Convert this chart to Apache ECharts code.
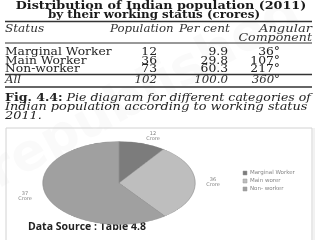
<!DOCTYPE html>
<html><head><meta charset="utf-8">
<script src="https://cdn.jsdelivr.net/npm/echarts@6/dist/echarts.min.js"></script>
<style>
html,body{margin:0;padding:0;background:#fff;overflow:hidden;width:320px;height:240px}
#main{position:absolute;left:0;top:0;width:320px;height:240px}
#pie{position:absolute;left:42px;top:106px;width:154px;height:154px;transform:scaleY(0.545);transform-origin:50% 50%}
</style></head><body>
<div id="main"></div><div id="pie"></div>
<script>
const titleLines = ['Distribution of Indian population (2011)', 'by their working status (crores)'];
const headers = ['Status', 'Population', 'Per cent', 'Angular', 'Component'];
const categories = ['Marginal Worker', 'Main Worker', 'Non-worker'];
const population = [12, 36, 73];
const percent = [9.9, 29.8, 60.3];
const angles = [36, 107, 217];
const totalRow = ['All', '102', '100.0', '360°'];
const captionLines = ['Pie diagram for different categories of', 'Indian population according to working status', '2011.'];
const legendNames = ['Marginal Worker', 'Main worer', 'Non- worker'];
const pieLabels = ['12', '36', '37'];
const sourceText = 'Data Source : Table 4.8';
const sliceColors = ['#7c7c7c', '#bebebe', '#a0a0a0'];

const SERIF = '"DejaVu Serif"';
function T(text, x, y, font, align, fill, sx) {
  return {type: 'text', x: x, y: y, scaleX: sx || 1, silent: true,
    style: {text: text, font: font, fill: fill || '#222', align: align || 'left', verticalAlign: 'middle'}};
}
function L(x1, y1, x2, y2, w, c) {
  return {type: 'line', silent: true, shape: {x1: x1, y1: y1, x2: x2, y2: y2}, style: {stroke: c || '#333', lineWidth: w}};
}
const g = [];
// faint watermark
g.push({type: 'text', x: 4, y: 200, rotation: 0.5, silent: true,
  style: {text: 'republished', font: 'bold 52px "DejaVu Sans"', fill: 'rgba(0,0,0,0.02)', verticalAlign: 'bottom'}});
g.push(T(titleLines[0], 161, 6.5, 'bold 11px ' + SERIF, 'center', '#1a1a1a', 1.16));
g.push(T(titleLines[1], 154, 15.5, 'bold 11px ' + SERIF, 'center', '#1a1a1a', 1.08));
g.push(L(5, 21.5, 312, 21.5, 1.5));
const HF = 'italic 10.5px ' + SERIF;
g.push(T(headers[0], 5, 29.5, HF, 'left', '#333', 1.15));
g.push(T(headers[1], 110, 29.5, HF, 'left', '#333', 1.12));
g.push(T(headers[2], 179, 29.5, HF, 'left', '#333', 1.15));
g.push(T(headers[3], 312, 29.5, HF, 'right', '#333', 1.25));
g.push(T(headers[4], 312, 38.5, HF, 'right', '#333', 1.2));
g.push(L(5, 43, 312, 43, 1));
const RF = '11px ' + SERIF;
categories.forEach(function (c, i) {
  const y = 52 + i * 8.7;
  g.push(T(c, 5, y, RF, 'left', '#222', 1.12));
  g.push(T(String(population[i]), 157, y, RF, 'right', '#222', 1.12));
  g.push(T(percent[i].toFixed(1), 228, y, RF, 'right', '#222', 1.12));
  g.push(T(angles[i] + '°', 280, y, RF, 'right', '#222', 1.12));
});
g.push(L(5, 74.5, 312, 74.5, 1.5));
g.push(T(totalRow[0], 5, 80.5, HF, 'left', '#333', 1.12));
g.push(T(totalRow[1], 157, 80.5, HF, 'right', '#333', 1.12));
g.push(T(totalRow[2], 228, 80.5, HF, 'right', '#333', 1.12));
g.push(T(totalRow[3], 280, 80.5, HF, 'right', '#333', 1.12));
g.push(L(5, 87, 312, 87, 1.5));
g.push({type: 'text', x: 5, y: 98, scaleX: 1.14, silent: true, style: {
  text: '{b|Fig. 4.4:} ' + captionLines[0], font: 'italic 11px ' + SERIF, fill: '#222', verticalAlign: 'middle',
  rich: {b: {fontFamily: 'DejaVu Serif', fontWeight: 'bold', fontStyle: 'normal', fontSize: 11, fill: '#222'}}}});
g.push(T(captionLines[1], 5, 107, 'italic 11px ' + SERIF, 'left', '#222', 1.17));
g.push(T(captionLines[2], 5, 116, 'italic 11px ' + SERIF, 'left', '#222', 1.17));
// chart box
g.push({type: 'rect', silent: true, shape: {x: 6, y: 128, width: 306, height: 120},
  style: {fill: 'none', stroke: '#d2d2d2', lineWidth: 1}});
g.push(L(314, 128, 314, 240, 1, '#e4e4e4'));
// pie labels
const labelPos = [[153, 136], [213, 182], [25, 196]];
pieLabels.forEach(function (t, i) {
  g.push({type: 'text', x: labelPos[i][0], y: labelPos[i][1], silent: true,
    style: {text: t + '\nCrore', font: '5px "DejaVu Sans"', fill: '#808080', align: 'center', verticalAlign: 'middle', lineHeight: 5}});
});
// legend
legendNames.forEach(function (n, i) {
  const y = 173 + i * 8;
  g.push({type: 'rect', silent: true, shape: {x: 243, y: y - 2, width: 4, height: 4},
    style: {fill: sliceColors[i], stroke: '#999', lineWidth: 0.5}});
  g.push(T(n, 250, y, '5.5px "DejaVu Sans"', 'left', '#858585'));
});
g.push(T(sourceText, 28, 227, 'bold 10.5px "Open Sans"', 'left', '#222'));

const main = echarts.init(document.getElementById('main'), null, {renderer: 'canvas'});
main.setOption({backgroundColor: '#fff', animation: false, graphic: g});

const pie = echarts.init(document.getElementById('pie'), null, {renderer: 'canvas'});
pie.setOption({
  animation: false,
  series: [{
    type: 'pie', radius: '99%', center: ['50%', '50%'], startAngle: 90, clockwise: true,
    silent: true, label: {show: false}, labelLine: {show: false},
    itemStyle: {borderColor: '#8a8a8a', borderWidth: 0.6},
    data: categories.map(function (c, i) { return {name: c, value: percent[i], itemStyle: {color: sliceColors[i]}}; })
  }]
});
</script>
</body></html>
